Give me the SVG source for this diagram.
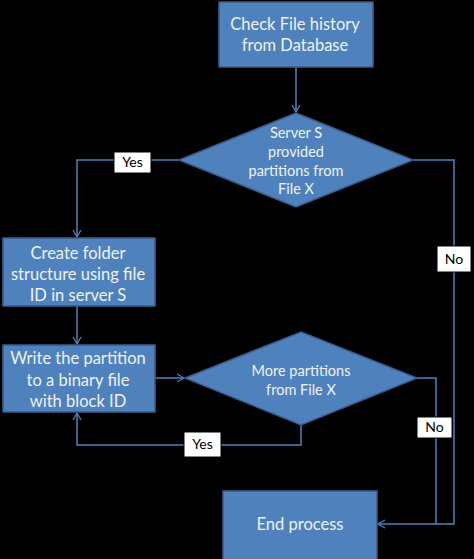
<svg xmlns="http://www.w3.org/2000/svg" width="474" height="559" viewBox="0 0 474 559">
<style>
.box{fill:#4f81bd;stroke:#385d8a;stroke-width:1.5}
.t{font-family:Lato,"Open Sans",sans-serif;font-size:16.5px;fill:#eef3fb;text-anchor:middle}
.td{font-family:Lato,"Open Sans",sans-serif;font-size:14.5px;fill:#eef3fb;text-anchor:middle}
.c{fill:none;stroke:#4f81bd;stroke-width:1.5}
.lb{fill:#ffffff;stroke:#000000;stroke-width:1}
.lt{font-family:Lato,"Open Sans",sans-serif;font-size:14px;fill:#000000;text-anchor:middle}
</style>
<defs>
<marker id="a" markerWidth="10" markerHeight="10" refX="8" refY="5" orient="auto" markerUnits="userSpaceOnUse">
<polyline points="1,1 8,5 1,9" fill="none" stroke="#4f81bd" stroke-width="1.3"/>
</marker>
</defs>
<rect width="474" height="559" fill="#000000"/>
<g id="connectors">
<path class="c" d="M296,67 V112" marker-end="url(#a)"/>
<path class="c" d="M179,160 H77 V237" marker-end="url(#a)"/>
<path class="c" d="M413,160 H454 V524 H378" marker-end="url(#a)"/>
<path class="c" d="M77,306 V344" marker-end="url(#a)"/>
<path class="c" d="M154,378 H184" marker-end="url(#a)"/>
<path class="c" d="M301,425 V445 H77 V413" marker-end="url(#a)"/>
<path class="c" d="M417,378 H436 V524"/>
</g>
<g id="check">
<rect class="box" x="219" y="2" width="154" height="65"/>
<text class="t" x="295" y="30">Check File history</text>
<text class="t" x="295" y="51">from Database</text>
</g>
<g id="server">
<polygon class="box" points="296,113 413,160 296,207 179,160"/>
<text class="td" x="296" y="138">Server S</text>
<text class="td" x="296" y="157">provided</text>
<text class="td" x="296" y="176">partitions from</text>
<text class="td" x="296" y="194">File X</text>
</g>
<g id="create">
<rect class="box" x="3" y="238" width="152" height="68"/>
<text class="t" x="78" y="259">Create folder</text>
<text class="t" x="78" y="280">structure using file</text>
<text class="t" x="78" y="301">ID in server S</text>
</g>
<g id="write">
<rect class="box" x="3" y="345" width="152" height="67"/>
<text class="t" x="78" y="364">Write the partition</text>
<text class="t" x="78" y="386">to a binary file</text>
<text class="t" x="78" y="407">with block ID</text>
</g>
<g id="more">
<polygon class="box" points="301,332 417,378 301,425 185,378"/>
<text class="td" x="301" y="376">More partitions</text>
<text class="td" x="301" y="395">from File X</text>
</g>
<g id="end">
<rect class="box" x="223" y="491" width="154" height="70"/>
<text class="t" x="300" y="530">End process</text>
</g>
<g id="labels">
<rect class="lb" x="114" y="152" width="37" height="21"/>
<text class="lt" x="132.5" y="167">Yes</text>
<rect class="lb" x="437" y="246" width="34" height="26"/>
<text class="lt" x="454" y="264">No</text>
<rect class="lb" x="417" y="417" width="35" height="21"/>
<text class="lt" x="434.5" y="432">No</text>
<rect class="lb" x="184" y="432" width="37" height="25"/>
<text class="lt" x="202.5" y="449">Yes</text>
</g>
</svg>
